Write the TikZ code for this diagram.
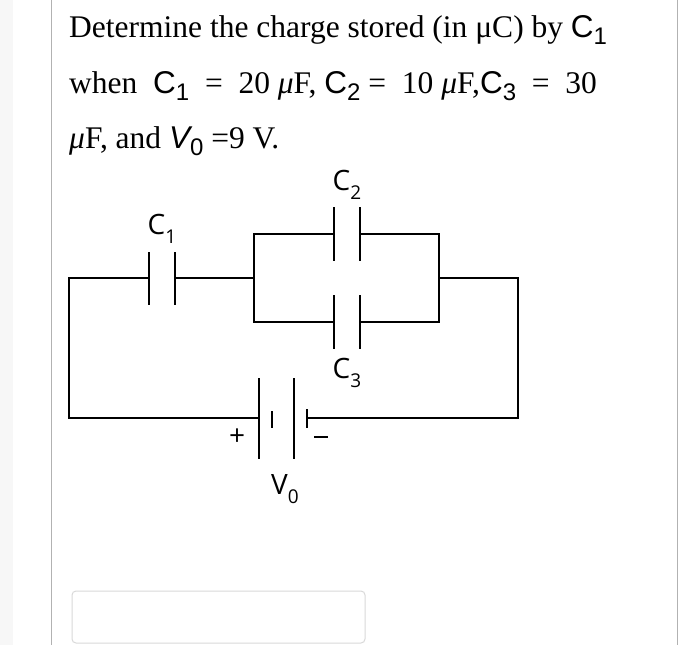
\documentclass[tikz,border=0pt]{standalone}
\usepackage{fontspec}
\setmainfont{Liberation Serif}
\newfontfamily\arial{Liberation Sans}
\newfontfamily\osans{Open Sans}
\newcommand{\sbs}[1]{\raisebox{-0.25em}{\fontsize{24}{24}\selectfont #1}}
\begin{document}
\begin{tikzpicture}[x=1pt,y=-1pt,
  wire/.style={line width=1.7pt},
  plate/.style={line width=1.9pt},
  lbl/.style={font=\osans\fontsize{28}{28}\selectfont, inner sep=0pt},
  qtext/.style={font=\fontsize{31.5}{31.5}\selectfont, anchor=base west, inner sep=0pt}]
\useasboundingbox (0,0) rectangle (700,645);
\fill[white] (0,0) rectangle (700,645);
\fill[gray!6] (0,0) rectangle (13,645);
\draw[gray!60, line width=1pt] (51,0) -- (51,645);
\draw[gray!60, line width=1pt] (677,0) -- (677,645);
\draw[gray!30, line width=1pt, rounded corners=4pt] (72,591) rectangle (365,643);
% question text
\node[qtext] (l1) at (69,37) {Determine the charge stored (in μC) by {\arial C\sbs{1}}};
\node[qtext] (l2) at (69,93) {when\ \ {\arial C\sbs{1}} \ = \ 20 \textit{μ}F, {\arial C\sbs{2}} = \ 10 \textit{μ}F,{\arial C\sbs{3}} \ = \ 30};
\node[qtext] (l3) at (69,148) {\textit{μ}F, and {\arial\itshape V}{\arial\sbs{0}} =9 V.};
% circuit coordinates
\coordinate (tl) at (69,278);
\coordinate (bl) at (69,418);
\coordinate (tr) at (518,278);
\coordinate (br) at (518,418);
\coordinate (c1a) at (149,278);
\coordinate (c1b) at (175,278);
\coordinate (pl) at (254,278);
\coordinate (pr) at (439,278);
% main loop
\draw[wire] (c1a) -- (tl) -- (bl) -- (259,418);
\draw[wire] (c1b) -- (pl);
\draw[wire] (334,234) -- (254,234) -- (254,322) -- (334,322);
\draw[wire] (360,234) -- (439,234) -- (439,322) -- (360,322);
\draw[wire] (pr) -- (tr) -- (br) -- (307,418);
% capacitor plates
\draw[plate] (149,252) -- (149,305);
\draw[plate] (175,252) -- (175,305);
\draw[plate] (334,207) -- (334,261);
\draw[plate] (360,207) -- (360,261);
\draw[plate] (334,295) -- (334,349);
\draw[plate] (360,295) -- (360,349);
% battery
\draw[plate] (259,378) -- (259,459);
\draw[plate] (272,411) -- (272,428);
\draw[plate] (294,378) -- (294,459);
\draw[plate] (307,409) -- (307,428);
% labels
\node[lbl] (C1) at (162,229) {C\raisebox{-0.3em}{\fontsize{19}{19}\selectfont 1}};
\node[lbl] (C2) at (347,185) {C\raisebox{-0.3em}{\fontsize{19}{19}\selectfont 2}};
\node[lbl] (C3) at (347,373) {C\raisebox{-0.3em}{\fontsize{19}{19}\selectfont 3}};
\node[lbl] (V0) at (285,489) {V\raisebox{-0.3em}{\fontsize{19}{19}\selectfont 0}};
\node[lbl] (plus) at (237,437) {+};
\node[lbl] (minus) at (321,437) {\rule{14pt}{1.8pt}};
\end{tikzpicture}
\end{document}
